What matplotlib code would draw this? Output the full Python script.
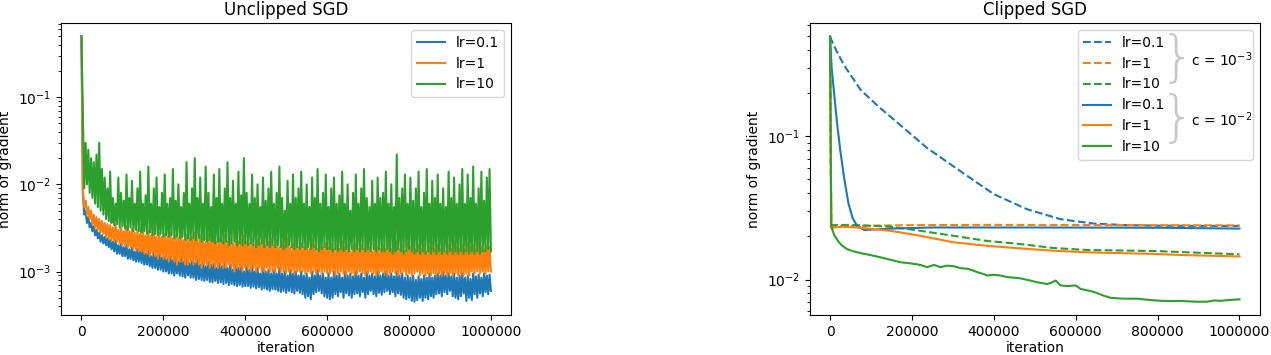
import numpy as np
import matplotlib.pyplot as plt

# ---- Unclipped SGD: gradient norm (x1e-3), alternating local high / low,
# evenly spaced over 0..1e6 iterations
unclipped_lr01 = [500,
    8, 4.5, 5, 3.6, 4.2, 3.2, 3.6, 2.9, 3.3, 2.6, 3.0, 2.4, 2.8, 2.2, 2.6, 2.1, 2.5, 2.0, 2.4, 1.9,
    2.3, 1.8, 2.2, 1.7, 2.3, 1.6, 2.0, 1.6, 2.1, 1.5, 1.9, 1.5, 2.0, 1.4, 1.8, 1.4, 1.9, 1.35, 1.7, 1.3,
    1.8, 1.3, 1.7, 1.25, 1.8, 1.2, 1.6, 1.2, 1.7, 1.15, 1.5, 1.1, 1.7, 1.1, 1.5, 1.05, 1.6, 1.05, 1.45, 1.0,
    1.5, 1.0, 1.4, 0.95, 1.55, 0.95, 1.35, 0.9, 1.45, 0.95, 1.3, 0.9, 1.5, 0.88, 1.3, 0.85, 1.4, 0.9, 1.25, 0.85,
    1.35, 0.85, 1.25, 0.8, 1.4, 0.82, 1.2, 0.8, 1.3, 0.78, 1.15, 0.8, 1.3, 0.76, 1.2, 0.75, 1.25, 0.78, 1.1, 0.74,
    1.25, 0.75, 1.15, 0.72, 1.3, 0.74, 1.1, 0.7, 1.2, 0.72, 1.05, 0.7, 1.2, 0.68, 1.1, 0.7, 1.15, 0.67, 1.0, 0.68,
    1.15, 0.68, 1.05, 0.65, 1.2, 0.67, 1.0, 0.64, 1.1, 0.66, 0.95, 0.62, 1.1, 0.64, 1.0, 0.62, 1.05, 0.6, 0.95, 0.63,
    1.05, 0.62, 0.95, 0.6, 1.1, 0.58, 0.95, 0.6, 1.0, 0.57, 0.9, 0.6, 1.05, 0.58, 0.95, 0.56, 1.0, 0.6, 0.9, 0.57,
    1.0, 0.55, 0.9, 0.5, 0.95, 0.52, 0.85, 0.48, 1.0, 0.55, 0.9, 0.58, 1.05, 0.6, 0.9, 0.56, 0.95, 0.52, 0.85, 0.5,
    0.95, 0.48, 0.85, 0.5, 1.0, 0.55, 0.9, 0.52, 0.95, 0.58, 0.85, 0.5, 1.0, 0.56, 0.9, 0.53, 0.95, 0.5, 0.88, 0.55,
    1.0, 0.56, 0.9, 0.52, 0.95, 0.58, 0.85, 0.5, 1.0, 0.55, 0.9, 0.6, 0.95, 0.55, 0.88, 0.52, 1.0, 0.57, 0.9, 0.54,
    0.95, 0.58, 1.0, 0.6, 0.9, 0.55, 0.95, 0.58, 0.88, 0.52, 1.0, 0.56, 0.9, 0.54, 0.95, 0.5, 0.85, 0.48, 0.9, 0.5,
    0.85, 0.46, 0.9, 0.45, 0.8, 0.47, 0.88, 0.5, 0.82, 0.46, 0.9, 0.5, 0.85, 0.48, 0.95, 0.52, 0.85, 0.5, 0.9, 0.55,
    0.95, 0.56, 0.9, 0.52, 1.0, 0.58, 0.9, 0.55, 0.95, 0.6, 0.88, 0.52, 0.95, 0.5, 0.85, 0.48, 0.9, 0.52, 0.95, 0.56,
    0.85, 0.46, 0.9, 0.5, 0.82, 0.47, 0.95, 0.55, 0.88, 0.5, 0.92, 0.56, 0.85, 0.52, 0.95, 0.58, 0.9, 0.55, 0.92, 0.6]

unclipped_lr1 = [500,
    9, 5.5, 6.5, 4.5, 5.5, 4, 5, 3.5, 4.5, 3.2, 4.2, 3.0, 4, 2.8, 3.8, 2.7, 3.6, 2.5, 3.5, 2.4,
    3.4, 2.3, 3.2, 2.2, 3.5, 2.2, 3.0, 2.1, 3.2, 2.0, 2.9, 2.0, 3.3, 1.9, 2.9, 1.9, 3.1, 1.8, 2.8, 1.8,
    3.0, 1.7, 2.7, 1.7, 3.1, 1.6, 2.6, 1.6, 2.9, 1.5, 2.6, 1.6, 3.2, 1.5, 2.5, 1.4, 2.8, 1.5, 2.5, 1.4,
    2.7, 1.4, 2.5, 1.3, 2.9, 1.4, 2.4, 1.3, 2.6, 1.2, 2.4, 1.3, 2.8, 1.3, 2.3, 1.2, 2.6, 1.2, 2.4, 1.3,
    2.5, 1.2, 2.8, 1.3, 2.3, 1.2, 2.6, 1.1, 2.4, 1.2, 2.2, 1.2, 2.7, 1.1, 2.3, 1.2, 2.5, 1.1, 2.2, 1.1,
    2.4, 1.2, 2.2, 1.1, 2.6, 1.1, 2.2, 1.2, 2.4, 1.1, 2.1, 1.0, 2.5, 1.1, 2.2, 1.1, 2.3, 1.0, 2.6, 1.1,
    2.2, 1.1, 2.1, 1.0, 2.4, 1.1, 2.0, 1.0, 2.3, 1.1, 2.1, 1.0, 2.5, 1.0, 2.0, 1.1, 2.2, 1.0, 2.4, 1.0,
    2.0, 1.0, 2.3, 1.1, 1.9, 1.0, 2.2, 1.0, 2.0, 0.95, 2.4, 1.0, 1.9, 1.0, 2.1, 0.95, 2.3, 1.0, 1.9, 1.0,
    2.1, 1.0, 1.9, 0.95, 2.2, 1.0, 1.8, 0.95, 2.4, 1.0, 2.0, 0.95, 1.8, 1.0, 2.2, 0.95, 1.9, 1.0, 2.1, 0.95,
    1.9, 0.95, 2.1, 1.0, 1.8, 0.9, 2.0, 0.95, 1.8, 1.0, 2.2, 0.95, 1.9, 0.9, 2.0, 1.0, 1.7, 0.95, 2.0, 0.9,
    2.1, 0.95, 1.8, 1.0, 2.0, 0.95, 1.8, 0.9, 2.3, 0.95, 1.9, 1.0, 1.7, 0.95, 2.1, 0.9, 1.9, 0.95, 1.8, 1.0,
    2.0, 0.95, 1.8, 0.9, 2.1, 0.95, 1.8, 1.0, 1.9, 0.95, 2.2, 0.9, 1.8, 0.95, 2.0, 1.0, 1.7, 0.9, 2.1, 0.95,
    1.9, 0.9, 2.3, 0.95, 1.8, 1.0, 2.0, 0.9, 1.8, 0.95, 2.1, 0.9, 1.7, 0.95, 1.9, 0.9, 2.2, 0.95, 1.8, 0.9,
    2.0, 0.95, 1.8, 0.9, 2.1, 0.95, 1.7, 0.9, 2.0, 0.95, 1.8, 0.9, 2.2, 0.95, 1.9, 0.9, 1.8, 0.95, 2.0, 0.9,
    1.8, 0.95, 2.1, 0.9, 1.9, 1.0, 2.0, 0.95, 1.8, 1.0, 2.2, 0.95, 1.9, 1.0, 1.8, 0.95, 2.0, 1.0, 1.9, 1.0]

unclipped_lr10 = [500,
    70, 9, 30, 10, 25, 8, 20, 7, 18, 6, 22, 5.5, 30, 5, 15, 4.5, 12, 4, 9, 3.8,
    14, 3.6, 7, 3.4, 6, 3.5, 12, 3.2, 8, 3.3, 6.5, 3.1, 13, 3.0, 7, 3.2, 11, 2.9, 6, 3.0,
    9, 2.9, 14, 2.8, 6, 2.9, 7.5, 2.7, 16, 2.8, 6, 2.6, 9, 2.7, 12, 2.6, 5.5, 2.7, 8, 2.5,
    13, 2.6, 6, 2.5, 7, 2.6, 15, 2.4, 6.5, 2.5, 10, 2.4, 5.5, 2.5, 8, 2.3, 18, 2.4, 6, 2.3,
    9, 2.4, 20, 2.3, 7, 2.4, 12, 2.2, 6, 2.3, 16, 2.2, 8, 2.3, 5.5, 2.2, 13, 2.1, 7, 2.2,
    15, 2.2, 6, 2.1, 9, 2.2, 18, 2.0, 7, 2.1, 11, 2.2, 6, 2.0, 14, 2.1, 7.5, 2.0, 20, 2.1,
    8, 2.0, 6, 2.1, 13, 2.0, 7, 1.9, 10, 2.0, 5.5, 2.1, 12, 1.9, 6.5, 2.0, 9, 1.9, 14, 2.0,
    6, 1.9, 8, 2.0, 16, 1.9, 7, 1.8, 5, 1.9, 11, 2.0, 6, 1.9, 13, 1.8, 7, 1.9, 9, 1.8,
    14, 1.9, 6, 1.8, 10, 1.9, 5.5, 1.8, 12, 1.9, 7, 1.8, 15, 1.7, 6, 1.8, 8, 1.9, 13, 1.8,
    5.5, 1.8, 9, 1.7, 12, 1.8, 6, 1.7, 7.5, 1.8, 14, 1.7, 6, 1.8, 10, 1.7, 5, 1.8, 8, 1.7,
    13, 1.8, 6, 1.7, 9, 1.8, 15, 1.7, 7, 1.8, 5.5, 1.7, 11, 1.8, 6, 1.7, 12, 1.8, 7, 1.7,
    8, 1.7, 14, 1.8, 6, 1.7, 10, 1.6, 5.5, 1.7, 22, 1.8, 7, 1.7, 9, 1.6, 13, 1.7, 6, 1.8,
    12, 1.7, 6.5, 1.6, 9, 1.7, 14, 1.6, 5.5, 1.7, 8, 1.6, 15, 1.7, 6, 1.6, 11, 1.7, 7, 1.6,
    13, 1.7, 6, 1.6, 9, 1.7, 5.5, 1.6, 14, 1.7, 7, 1.6, 12, 1.7, 6, 1.6, 10, 1.7, 15, 1.6,
    6, 1.7, 13, 1.6, 7, 1.7, 16, 1.6, 6, 1.7, 9, 1.6, 14, 1.7, 6.5, 1.7, 12, 1.8, 15, 1.7]

# ---- Clipped SGD: (iteration, gradient norm)
# c = 1e-3 (dashed)
c3_lr01_x = [0, 5000, 15000, 34000, 75000, 120000, 156000, 237000, 319000, 400000, 481000, 563000, 644000, 720000, 800000, 900000, 1000000]
c3_lr01_y = [0.5, 0.46, 0.40, 0.315, 0.211, 0.160, 0.131, 0.083, 0.057, 0.0395, 0.031, 0.0264, 0.0246, 0.0240, 0.0238, 0.0237, 0.0237]
c3_lr1_x = [0, 3000, 60000, 200000, 400000, 700000, 1000000]
c3_lr1_y = [0.5, 0.0235, 0.0237, 0.0240, 0.0241, 0.0240, 0.0239]
c3_lr10_x = [0, 3000, 50000, 148000, 221000, 302000, 384000, 465000, 546000, 627000, 800000, 1000000]
c3_lr10_y = [0.5, 0.0240, 0.0241, 0.0234, 0.0219, 0.0202, 0.0186, 0.0177, 0.0166, 0.0161, 0.0158, 0.0150]

# c = 1e-2 (solid)
c2_lr01_x = [0, 4000, 10000, 17000, 25000, 35000, 45000, 55000, 65000, 83000, 100000, 150000, 250000, 500000, 800000, 1000000]
c2_lr01_y = [0.5, 0.3, 0.2, 0.125, 0.08, 0.05, 0.034, 0.027, 0.024, 0.0222, 0.0223, 0.0227, 0.0231, 0.0231, 0.0230, 0.0227]
c2_lr1_x = [0, 3000, 30000, 66000, 148000, 221000, 302000, 384000, 465000, 546000, 627000, 709000, 790000, 872000, 1000000]
c2_lr1_y = [0.5, 0.0230, 0.0234, 0.0231, 0.0219, 0.0202, 0.0182, 0.0172, 0.0165, 0.0159, 0.0155, 0.0153, 0.0151, 0.0148, 0.0145]
c2_lr10_x = [0, 3000, 10000, 20000, 30000, 42000, 55000, 75000, 100000, 123000,
             150000, 172000, 195000, 210000, 221000, 237000, 254000, 270000, 285000, 302000,
             319000, 335000, 348000, 360000, 372000, 384000, 400000, 416000, 433000, 450000,
             465000, 485000, 506000, 530000, 540000, 551000, 563000, 580000, 600000, 612000,
             628000, 644000, 669000, 685000, 700000, 720000, 750000, 780000, 810000, 831000,
             850000, 872000, 895000, 920000, 940000, 953000, 975000, 1000000]
c2_lr10_y = [0.5, 0.0235, 0.0205, 0.0185, 0.0172, 0.0163, 0.0158, 0.0153, 0.0148, 0.0143,
             0.0137, 0.0132, 0.0130, 0.0128, 0.01265, 0.0122, 0.01265, 0.0122, 0.0125, 0.0124,
             0.0120, 0.0119, 0.0116, 0.01125, 0.0110, 0.01067, 0.0108, 0.01067, 0.0104, 0.0103,
             0.0102, 0.0099, 0.00958, 0.0093, 0.0095, 0.00984, 0.0091, 0.0090, 0.0091, 0.0086,
             0.0084, 0.0082, 0.0077, 0.00746, 0.0074, 0.00735, 0.00735, 0.0072, 0.0071, 0.00708,
             0.0071, 0.00705, 0.0070, 0.0070, 0.00715, 0.0071, 0.0072, 0.00727]

labels = ['lr=0.1', 'lr=1', 'lr=10']
colors = ['tab:blue', 'tab:orange', 'tab:green']

fig, (ax1, ax2) = plt.subplots(1, 2, figsize=(12.71, 3.55), dpi=100)
plt.subplots_adjust(left=0.048, right=0.9913, bottom=0.1127, top=0.935, wspace=0.662)

# Left panel
for vals, lab, col in zip([unclipped_lr01, unclipped_lr1, unclipped_lr10], labels, colors):
    y = np.array(vals) * 1e-3
    x = np.linspace(0, 1000000, len(y))
    ax1.plot(x, y, color=col, label=lab, linewidth=1.5)
ax1.set_yscale('log')
ax1.set_title('Unclipped SGD')
ax1.set_xlabel('iteration', labelpad=2)
ax1.set_ylabel('norm of gradient')
ax1.ticklabel_format(style='plain', axis='x')
ax1.legend(loc='upper right')

# Right panel
ax2.plot(c3_lr01_x, c3_lr01_y, '--', color=colors[0], label=labels[0])
ax2.plot(c3_lr1_x, c3_lr1_y, '--', color=colors[1], label=labels[1])
ax2.plot(c3_lr10_x, c3_lr10_y, '--', color=colors[2], label=labels[2])
ax2.plot(c2_lr01_x, c2_lr01_y, color=colors[0], label=labels[0])
ax2.plot(c2_lr1_x, c2_lr1_y, color=colors[1], label=labels[1])
ax2.plot(c2_lr10_x, c2_lr10_y, color=colors[2], label=labels[2])
ax2.set_yscale('log')
ax2.set_title('Clipped SGD')
ax2.set_xlabel('iteration', labelpad=2)
ax2.set_ylabel('norm of gradient')
ax2.ticklabel_format(style='plain', axis='x')
ax2.legend(loc='upper right', bbox_to_anchor=(0.58, 0.0, 0.42, 1.0), mode='expand')

# braces grouping the clip values
for yc, txt in [(0.873, r'c = $10^{-3}$'), (0.668, r'c = $10^{-2}$')]:
    ax2.text(0.817, yc, '}', transform=ax2.transAxes, fontsize=40, color='#c8c8c8',
             fontweight='light', ha='center', va='center', zorder=6)
    ax2.text(0.847, yc, txt, transform=ax2.transAxes, fontsize=10, ha='left', va='center', zorder=6)

fig.savefig('out.png', dpi=100)
